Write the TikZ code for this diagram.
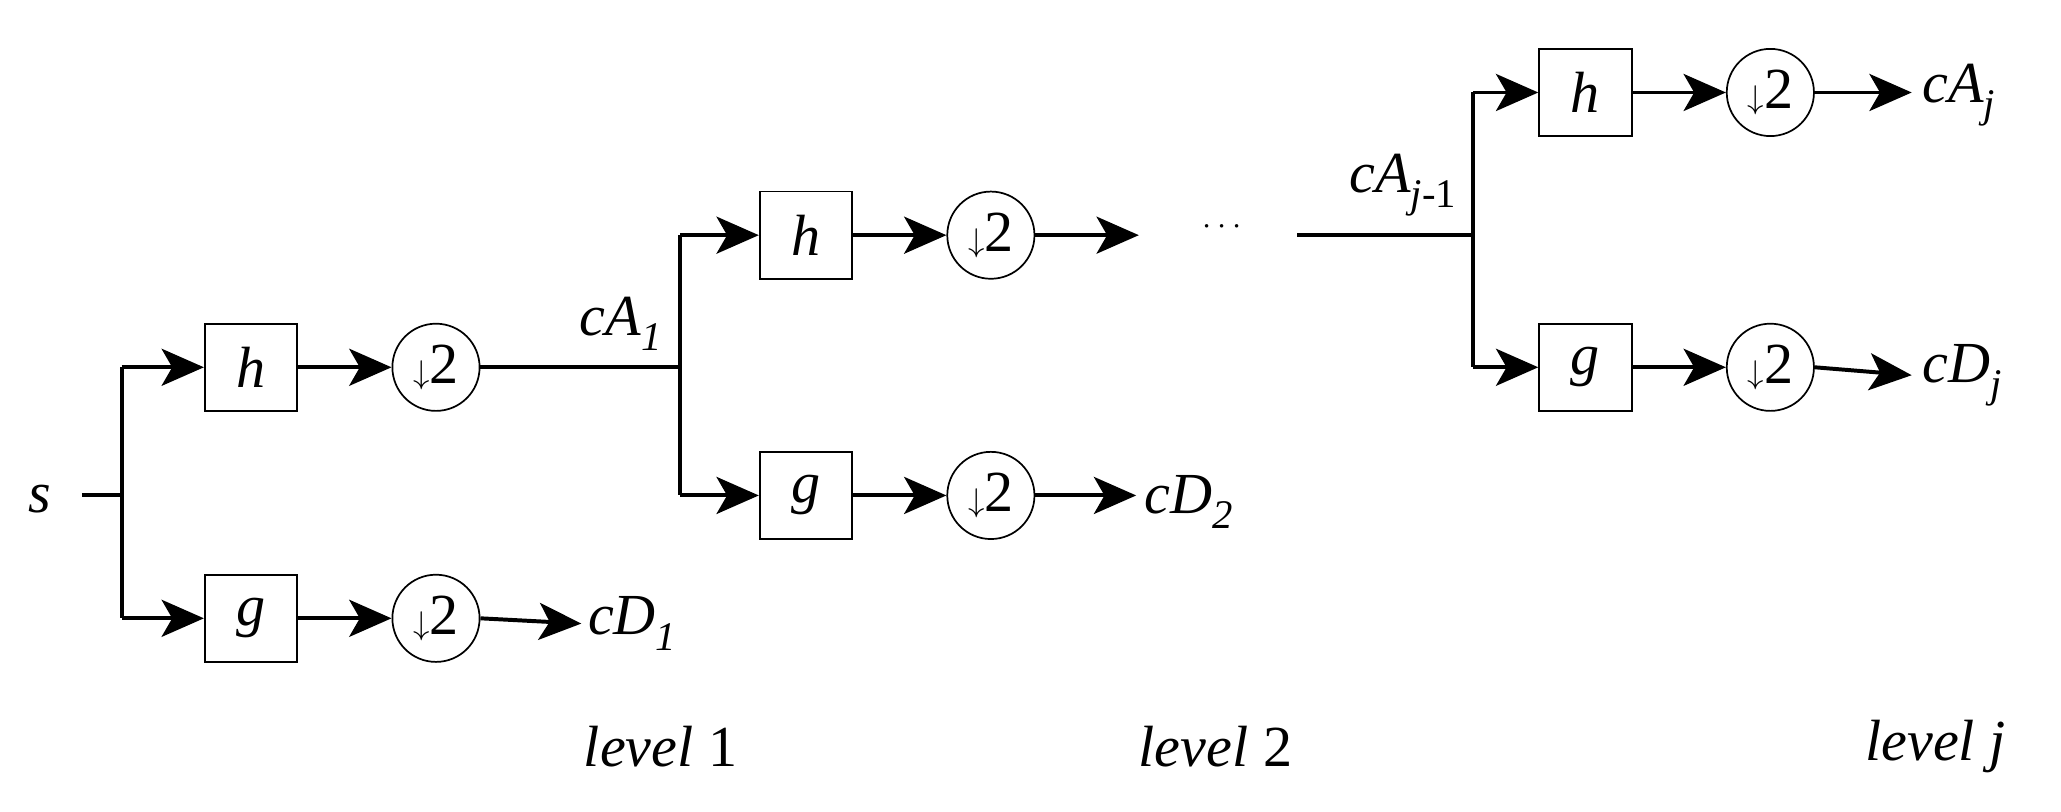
\documentclass[tikz,border=0pt]{standalone}
\usepackage{fontspec}
\setmainfont{Liberation Serif}
\usetikzlibrary{arrows.meta}
\begin{document}
\begin{tikzpicture}[x=1pt,y=-1pt,
  font=\fontsize{44}{50}\selectfont,
  w/.style={line width=3pt},
  a/.style={w,-{Stealth[length=32pt,width=28pt,inset=8pt]}},
  box/.style={draw,line width=1.3pt,minimum width=70pt,minimum height=66pt,inner sep=0pt},
  dn/.style={draw,circle,line width=1.3pt,minimum size=66pt,inner sep=0pt},
  lab/.style={inner sep=0pt,font=\fontsize{44}{50}\selectfont\itshape}]
\useasboundingbox (0,0) rectangle (1560,614);
% level 1
\node[lab] (s) at (30,378) {s};
\coordinate (s0) at (62,375);
\coordinate (b1) at (92,375);
\coordinate (b1t) at (92,278);
\coordinate (b1b) at (92,468);
\node[box] (h1) at (190,278) {\itshape h};
\node[box] (g1) at (190,468) {\itshape g};
\node[dn] (d1) at (330,278) {$\downarrow$2};
\node[dn] (e1) at (330,468) {$\downarrow$2};
\coordinate (cd1) at (440,472);
\node[lab,anchor=west] (cD1) at (445,472) {cD\textsubscript{1}};
\draw[w] (s0) -- (b1) (b1t) -- (b1b);
\draw[a] (b1t) -- (h1);
\draw[a] (b1b) -- (g1);
\draw[a] (h1) -- (d1);
\draw[a] (g1) -- (e1);
\draw[a] (e1.east) -- (cd1);
% level 2
\coordinate (b2t) at (515,178);
\coordinate (b2m) at (515,278);
\coordinate (b2b) at (515,375);
\node[lab] (cA1) at (470,245) {cA\textsubscript{1}};
\draw[w] (d1) -- (b2m);
\draw[w] (b2t) -- (b2b);
\node[box] (h2) at (610,178) {\itshape h};
\node[box] (g2) at (610,375) {\itshape g};
\node[dn] (d2) at (750,178) {$\downarrow$2};
\node[dn] (e2) at (750,375) {$\downarrow$2};
\coordinate (ad2) at (862,178);
\coordinate (cd2) at (860,375);
\node[lab] (dots) at (925,172) {$\cdots$};
\node[lab,anchor=west] (cD2) at (866,380) {cD\textsubscript{2}};
\draw[a] (b2t) -- (h2);
\draw[a] (b2b) -- (g2);
\draw[a] (h2) -- (d2);
\draw[a] (g2) -- (e2);
\draw[a] (d2) -- (ad2);
\draw[a] (e2) -- (cd2);
% level j
\coordinate (lj) at (982,178);
\coordinate (bjm) at (1115,178);
\coordinate (bjt) at (1115,70);
\coordinate (bjb) at (1115,278);
\node[lab] (cAj1) at (1062,140) {cA\textsubscript{j{\upshape -1}}};
\draw[w] (lj) -- (bjm);
\draw[w] (bjt) -- (bjb);
\node[box] (hj) at (1200,70) {\itshape h};
\node[box] (gj) at (1200,278) {\itshape g};
\node[dn] (dj) at (1340,70) {$\downarrow$2};
\node[dn] (ej) at (1340,278) {$\downarrow$2};
\coordinate (adj) at (1447,70);
\coordinate (cdj) at (1447,284);
\node[lab,anchor=west] (cAj) at (1455,72) {cA\textsubscript{j}};
\node[lab,anchor=west] (cDj) at (1455,284) {cD\textsubscript{j}};
\draw[a] (bjt) -- (hj);
\draw[a] (bjb) -- (gj);
\draw[a] (hj) -- (dj);
\draw[a] (gj) -- (ej);
\draw[a] (dj) -- (adj);
\draw[a] (ej.east) -- (cdj);
% level labels
\node[lab] (l1) at (500,565) {level {\upshape 1}};
\node[lab] (l2) at (920,565) {level {\upshape 2}};
\node[lab] (lj2) at (1465,565) {level j};
\end{tikzpicture}
\end{document}
